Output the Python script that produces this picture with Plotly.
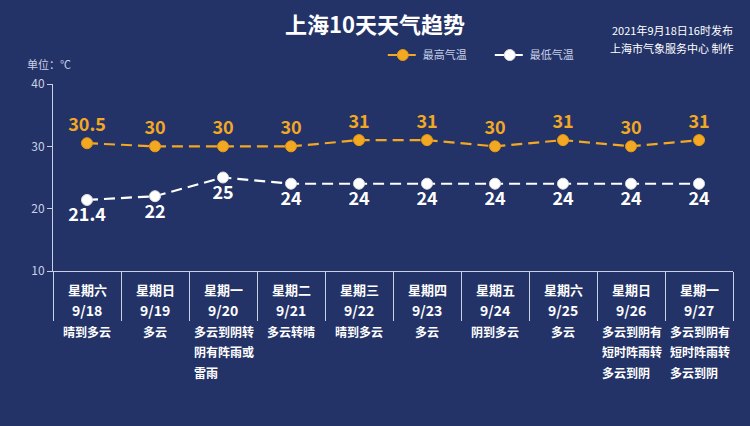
import plotly.graph_objects as go

weekdays = ["星期六", "星期日", "星期一", "星期二", "星期三", "星期四", "星期五", "星期六", "星期日", "星期一"]
dates = ["9/18", "9/19", "9/20", "9/21", "9/22", "9/23", "9/24", "9/25", "9/26", "9/27"]
weather = ["晴到多云", "多云", "多云到阴转阴有阵雨或雷雨", "多云转晴", "晴到多云", "多云", "阴到多云", "多云",
           "多云到阴有短时阵雨转多云到阴", "多云到阴有短时阵雨转多云到阴"]
high = [30.5, 30, 30, 30, 31, 31, 30, 31, 30, 31]
low = [21.4, 22, 25, 24, 24, 24, 24, 24, 24, 24]
y_ticks = [10, 20, 30, 40]

BG = "#233368"
ORANGE = "#F2A823"
LIGHT = "#C9D0E6"
FONT = "Noto Sans CJK SC"

def fmt(v):
    return str(int(v)) if float(v).is_integer() else str(v)

def chunks(s, n=5):
    return [s[i:i + n] for i in range(0, len(s), n)]

fig = go.Figure()
fig.add_trace(go.Scatter(
    x=dates, y=high, name="最高气温", mode="lines+markers+text",
    line=dict(color=ORANGE, width=2.2, dash="11px,6px"),
    marker=dict(size=11, color=ORANGE, line=dict(color="#E89A10", width=1)),
    text=[fmt(v) for v in high], textposition="top center",
    textfont=dict(family=FONT, size=18, color=ORANGE, weight="bold"),
))
fig.add_trace(go.Scatter(
    x=dates, y=low, name="最低气温", mode="lines+markers+text",
    line=dict(color="#FFFFFF", width=2.2, dash="11px,6px"),
    marker=dict(size=11, color="#FFFFFF", line=dict(color="#DDDDDD", width=1)),
    text=[fmt(v) for v in low], textposition="bottom center",
    textfont=dict(family=FONT, size=18, color="#FFFFFF", weight="bold"),
))

annotations = []
for d, wd, w in zip(dates, weekdays, weather):
    annotations.append(dict(x=d, y=0, xref="x", yref="paper", yanchor="middle", yshift=-18,
                            text=wd, showarrow=False,
                            font=dict(family=FONT, size=13, color="#FFFFFF", weight="bold")))
    annotations.append(dict(x=d, y=0, xref="x", yref="paper", yanchor="middle", yshift=-39,
                            text=d, showarrow=False,
                            font=dict(family=FONT, size=14, color="#FFFFFF", weight="bold")))
    lines = chunks(w)
    for i, ln in enumerate(lines):
        annotations.append(dict(x=d, y=0, xref="x", yref="paper", yanchor="middle",
                                xanchor="center" if len(lines) == 1 else "left",
                                xshift=0 if len(lines) == 1 else -31,
                                yshift=-60 - 20.5 * i,
                                text=ln, showarrow=False,
                                font=dict(family=FONT, size=12, color="#FFFFFF", weight="bold")))

annotations.append(dict(x=0, y=1, xref="paper", yref="paper", xanchor="right", yanchor="middle",
                        xshift=20, yshift=20, text="单位：℃", showarrow=False,
                        font=dict(family=FONT, size=11, color=LIGHT)))
annotations.append(dict(x=1, y=1, xref="paper", yref="paper", xanchor="right", yanchor="middle",
                        xshift=2, yshift=54, text="2021年9月18日16时发布", showarrow=False,
                        font=dict(family=FONT, size=11, color="#FFFFFF")))
annotations.append(dict(x=1, y=1, xref="paper", yref="paper", xanchor="right", yanchor="middle",
                        xshift=2, yshift=36, text="上海市气象服务中心 制作", showarrow=False,
                        font=dict(family=FONT, size=11, color="#FFFFFF")))

fig.update_layout(
    width=750, height=426,
    paper_bgcolor=BG, plot_bgcolor=BG,
    margin=dict(l=53, r=17, t=84, b=155),
    title=dict(text="<b>上海10天天气趋势</b>", x=0.5, xanchor="center", y=0.94, yanchor="middle",
               font=dict(family=FONT, size=22, color="#FFFFFF")),
    legend=dict(orientation="h", x=0.485, xanchor="left", y=1.155, yanchor="middle",
                font=dict(family=FONT, size=11, color=LIGHT), bgcolor="rgba(0,0,0,0)",
                itemwidth=30, entrywidth=62),
    showlegend=True,
    annotations=annotations,
    font=dict(family=FONT),
)
fig.update_xaxes(type="category", showgrid=False, showline=True, linecolor=LIGHT, linewidth=1,
                 tickson="boundaries", ticks="outside", ticklen=49, tickcolor=LIGHT,
                 showticklabels=False, zeroline=False, range=[-0.5, 9.5])
fig.update_yaxes(range=[10, 40], tickvals=y_ticks, showgrid=False, showline=True, linecolor=LIGHT,
                 linewidth=1, ticks="outside", ticklen=5, tickcolor=LIGHT,
                 tickfont=dict(family=FONT, size=12, color=LIGHT), zeroline=False)

fig.write_html("out.html", config={"displayModeBar": False},
               post_script="document.body.style.margin='0';document.body.style.background='" + BG + "';")
